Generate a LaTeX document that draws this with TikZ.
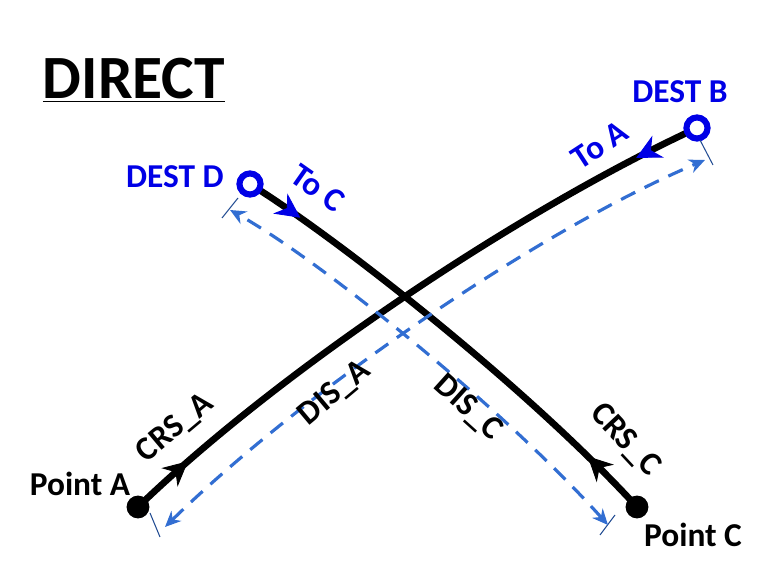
\documentclass[tikz,border=0pt]{standalone}
\usepackage{fontspec}
\setmainfont{Carlito}
\usetikzlibrary{arrows.meta,decorations.markings}
\definecolor{destblue}{RGB}{0,0,230}
\definecolor{disblue}{RGB}{50,110,210}
\tikzset{
  track/.style={line width=3.8pt},
  dis/.style={disblue, line width=1.8pt, dash pattern=on 9pt off 6pt, {Stealth[length=9pt,width=8pt]}-{Stealth[length=9pt,width=8pt]}},
  tick/.style={disblue!70!black, line width=.6pt},
  lbl/.style={font=\bfseries\fontsize{19}{19}\selectfont},
  dlbl/.style={lbl, text=destblue},
  fwd/.style={postaction={decorate, decoration={markings, mark=at position #1 with {\arrow[line width=.5pt]{Stealth[length=14pt,width=14pt]}}}}},
  bwd/.style={postaction={decorate, decoration={markings, mark=at position #1 with {\arrowreversed[fill=destblue,draw=destblue,line width=.5pt]{Stealth[length=14pt,width=14pt]}}}}}
}
\begin{document}
\begin{tikzpicture}
  \useasboundingbox (0,0) rectangle (15.46,11.4);
  % tracks
  \coordinate (ptA) at (2.76,1.26);
  \coordinate (dstB) at (13.94,8.84);
  \coordinate (ptC) at (12.74,1.26);
  \coordinate (dstD) at (5.0,7.72);
  \draw[track, fwd=.1, bwd=.9] (ptA) .. controls (5.6,4.0) and (10.4,7.2) .. (dstB);
  \draw[track, fwd=.14, bwd=.88] (ptC) .. controls (10.6,3.6) and (6.8,6.6) .. (dstD);
  \fill (ptA) circle (6.5pt);
  \fill (ptC) circle (6.5pt);
  \draw[destblue, line width=3.5pt, fill=white] (dstB) circle (6pt);
  \draw[destblue, line width=3.5pt, fill=white] (dstD) circle (6pt);
  % distances
  \draw[tick] (3.0,1.14) -- (3.2,0.66);
  \draw[tick] (14.0,8.6) -- (14.26,8.1);
  \draw[tick] (12.0,0.7) -- (12.3,1.1);
  \draw[tick] (4.44,7.04) -- (4.76,7.44);
  \draw[dis] (3.3,0.86) .. controls (6.1,3.6) and (10.8,6.8) .. (14.1,8.2);
  \draw[dis] (12.16,0.9) .. controls (10.1,3.2) and (6.4,6.2) .. (4.6,7.2);
  % labels
  \node[font=\bfseries\fontsize{35}{35}\selectfont] (title) at (2.68,9.8) {\underline{DIRECT}};
  \node[dlbl] (lblB) at (13.6,9.56) {DEST B};
  \node[dlbl] (lblD) at (3.5,7.86) {DEST D};
  \node[dlbl, rotate=33] (toA) at (12.0,8.5) {To A};
  \node[dlbl, rotate=-35] (toC) at (6.36,7.64) {To C};
  \node[lbl] (lblA) at (1.6,1.72) {Point A};
  \node[lbl] (lblC) at (13.86,0.7) {Point C};
  \node[lbl, rotate=40] (crsA) at (3.5,2.84) {CRS\_A};
  \node[lbl, rotate=40] (disA) at (6.7,3.54) {DIS\_A};
  \node[lbl, rotate=-42] (disC) at (9.36,3.24) {DIS\_C};
  \node[lbl, rotate=-47] (crsC) at (12.5,2.6) {CRS\_C};
\end{tikzpicture}
\end{document}
